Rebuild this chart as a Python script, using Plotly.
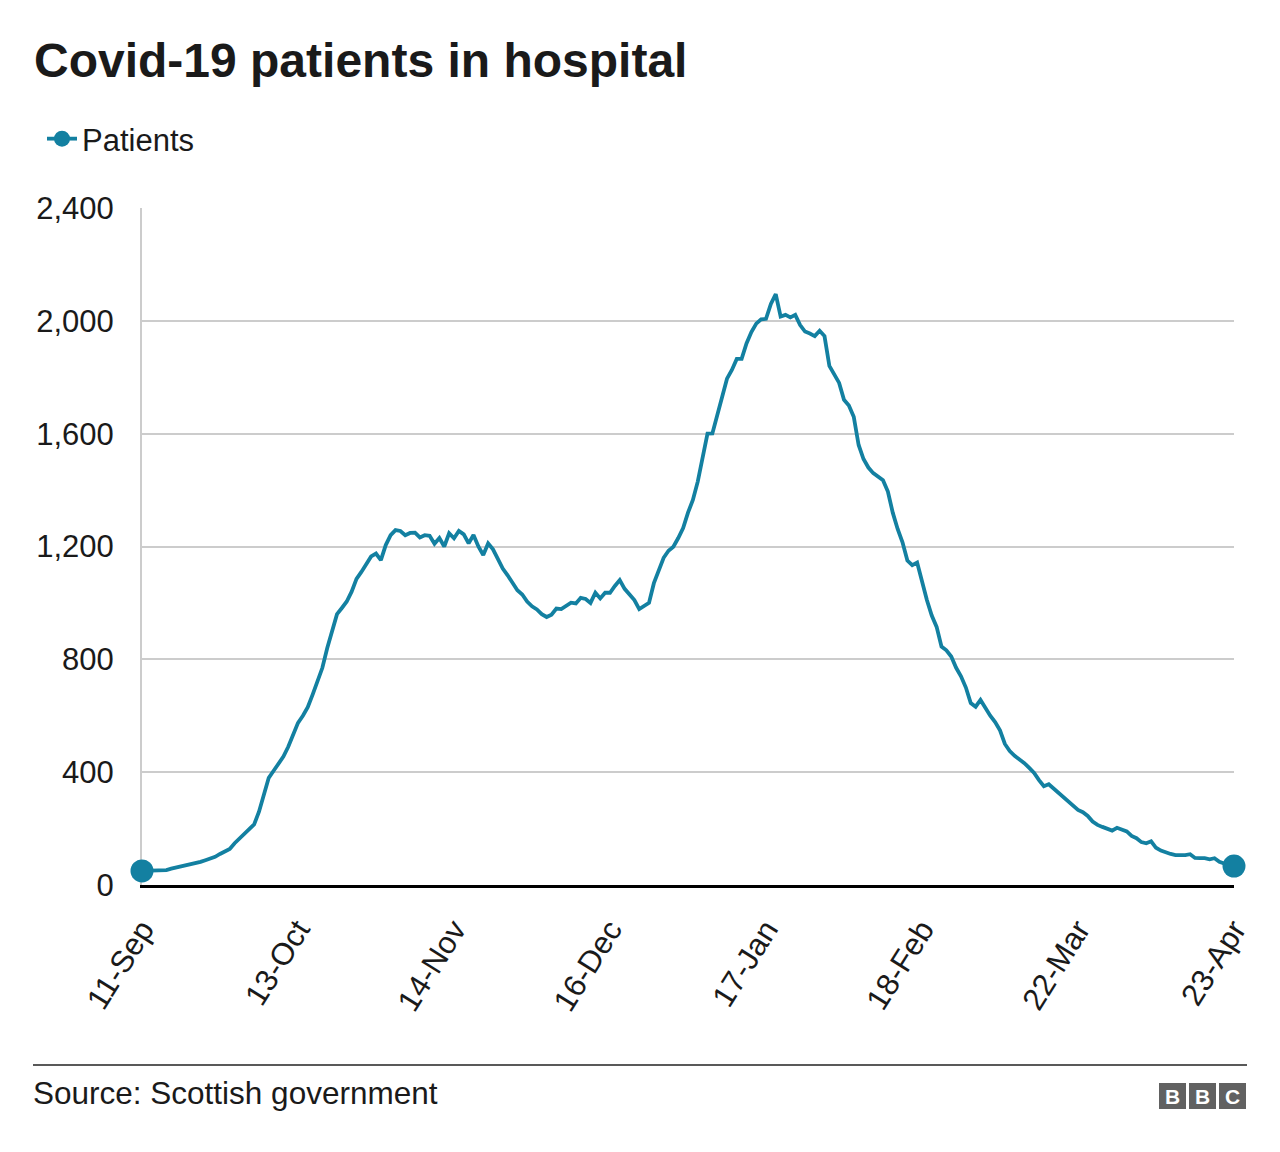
import pandas as pd
import plotly.graph_objects as go

# ---- data (daily patients in hospital) ----
start_date = "2020-09-11"
patients = [
    50, 50, 50, 51, 52, 53, 58, 62, 66, 68,
    75, 78, 82, 88, 93, 100, 110, 120, 128, 148,
    165, 182, 198, 215, 260, 320, 380, 405, 431, 455,
    490, 535, 575, 600, 630, 675, 720, 770, 840, 900,
    960, 982, 1005, 1040, 1085, 1110, 1135, 1165, 1175, 1152,
    1205, 1240, 1258, 1255, 1240, 1248, 1249, 1232, 1240, 1238,
    1210, 1230, 1200, 1247, 1229, 1255, 1243, 1211, 1241, 1200,
    1170, 1211, 1190, 1155, 1122, 1098, 1070, 1045, 1030, 1005,
    988, 977, 960, 950, 958, 980, 978, 988, 1001, 998,
    1018, 1014, 1000, 1036, 1016, 1036, 1036, 1060, 1081, 1050,
    1030, 1010, 978, 990, 1000, 1070, 1115, 1160, 1185, 1199,
    1230, 1265, 1320, 1365, 1430, 1520, 1600, 1601, 1665, 1720,
    1795, 1826, 1865, 1865, 1920, 1960, 1990, 2005, 2007, 2060,
    2095, 2015, 2021, 2012, 2021, 1985, 1962, 1955, 1946, 1965,
    1946, 1840, 1808, 1780, 1720, 1700, 1660, 1560, 1510, 1480,
    1460, 1447, 1435, 1395, 1320, 1262, 1215, 1150, 1134, 1143,
    1075, 1010, 955, 915, 845, 832, 810, 770, 740, 700,
    645, 632, 656, 625, 600, 578, 548, 500, 475, 458,
    447, 432, 415, 397, 372, 350, 357, 342, 327, 312,
    295, 280, 266, 258, 245, 225, 213, 206, 198, 193,
    203, 196, 190, 174, 166, 152, 148, 155, 132, 122,
    115, 110, 106, 105, 106, 109, 96, 95, 95, 91,
    95, 82, 75, 70, 67,
]
dates = pd.date_range(start_date, periods=len(patients), freq="D")

x_tick_dates = ["2020-09-11", "2020-10-13", "2020-11-14", "2020-12-16",
                "2021-01-17", "2021-02-18", "2021-03-22", "2021-04-23"]
x_tick_labels = ["11-Sep", "13-Oct", "14-Nov", "16-Dec",
                 "17-Jan", "18-Feb", "22-Mar", "23-Apr"]
y_tick_vals = [0, 400, 800, 1200, 1600, 2000, 2400]

title_text = "Covid-19 patients in hospital"
series_name = "Patients"
source_text = "Source: Scottish government"

# ---- style ----
FONT = "Liberation Sans, Arial, Helvetica, sans-serif"
TEXT = "#1a1a1a"
LINE_COLOR = "#1380A1"
W, H = 1280, 1152
L, R, T, B = 142, 46, 208, 267
PW, PH = W - L - R, H - T - B


def px_x(px):
    return (px - L) / PW


def px_y(py):
    return (H - B - py) / PH


fig = go.Figure()

# main line
fig.add_trace(go.Scatter(
    x=dates, y=patients, mode="lines",
    line=dict(color=LINE_COLOR, width=3.8),
    showlegend=False, hoverinfo="x+y",
))
# end-point markers
fig.add_trace(go.Scatter(
    x=[dates[0], dates[-1]], y=[patients[0], patients[-1]], mode="markers",
    marker=dict(color=LINE_COLOR, size=23),
    showlegend=False, cliponaxis=False, hoverinfo="skip",
))
# legend entry
fig.add_trace(go.Scatter(
    x=[None], y=[None], mode="lines+markers", name=series_name,
    line=dict(color=LINE_COLOR, width=3.8),
    marker=dict(color=LINE_COLOR, size=20),
    showlegend=True,
))

shapes = [
    # footer rule
    dict(type="line", xref="paper", yref="paper",
         x0=px_x(33), x1=px_x(1247), y0=px_y(1065), y1=px_y(1065),
         line=dict(color="#222222", width=1.5)),
]
annotations = [
    dict(text="<b>" + title_text + "</b>", xref="paper", yref="paper",
         x=px_x(32), y=px_y(61), xanchor="left", yanchor="middle",
         showarrow=False, font=dict(family=FONT, size=48, color=TEXT)),
    dict(text=source_text, xref="paper", yref="paper",
         x=px_x(31), y=px_y(1093), xanchor="left", yanchor="middle",
         showarrow=False, font=dict(family=FONT, size=31.5, color=TEXT)),
]
# BBC logo blocks
for i, letter in enumerate(["B", "B", "C"]):
    x0 = 1159 + i * 30
    shapes.append(dict(type="rect", xref="paper", yref="paper",
                       x0=px_x(x0), x1=px_x(x0 + 27), y0=px_y(1109), y1=px_y(1083),
                       fillcolor="#616161", line=dict(width=0)))
    annotations.append(dict(text="<b>" + letter + "</b>", xref="paper", yref="paper",
                            x=px_x(x0 + 13.5), y=px_y(1096), xanchor="center", yanchor="middle",
                            showarrow=False, font=dict(family=FONT, size=21, color="#ffffff")))

fig.update_layout(
    width=W, height=H,
    margin=dict(l=L, r=R, t=T, b=B, pad=0),
    paper_bgcolor="#ffffff", plot_bgcolor="#ffffff",
    font=dict(family=FONT, color=TEXT),
    showlegend=True,
    legend=dict(x=px_x(42), y=px_y(139), xanchor="left", yanchor="middle",
                orientation="h", font=dict(family=FONT, size=31, color=TEXT),
                bgcolor="rgba(0,0,0,0)", itemwidth=30),
    shapes=shapes,
    annotations=annotations,
    xaxis=dict(
        type="date",
        range=[dates[0], dates[-1]],
        tickvals=x_tick_dates, ticktext=x_tick_labels,
        tickangle=-58,
        tickfont=dict(family=FONT, size=31, color=TEXT),
        showgrid=False, zeroline=False,
        showline=True, linecolor="#000000", linewidth=3,
        ticks="", ticklabelstandoff=11,
        layer="below traces",
    ),
    yaxis=dict(
        range=[0, 2400],
        tickvals=y_tick_vals, tickformat=",",
        tickfont=dict(family=FONT, size=31, color=TEXT),
        showgrid=True, gridcolor="#cccccc", gridwidth=2,
        zeroline=False,
        showline=True, linecolor="#cccccc", linewidth=2,
        ticks="", ticklabelstandoff=20,
        layer="below traces",
    ),
)

fig.write_html("out.html")
